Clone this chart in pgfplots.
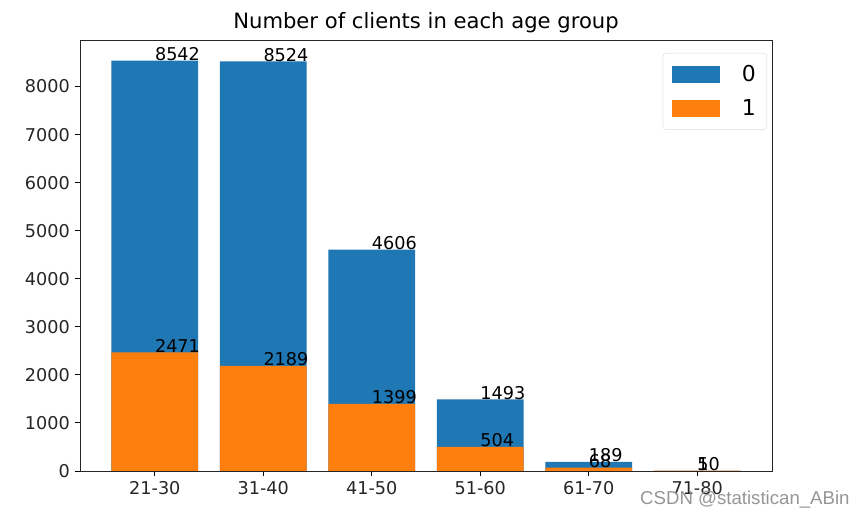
\documentclass[border=0pt]{standalone}
\usepackage{fontspec}
\setmainfont{DejaVu Sans}
\newfontfamily\wmfont{Liberation Sans}
\usepackage{pgfplots}
\pgfplotsset{compat=1.18}
\definecolor{c0}{HTML}{1F77B4}
\definecolor{c1}{HTML}{FF7F0E}
\definecolor{wm}{RGB}{150,150,150}
\newcommand{\fs}{\fontsize{17.7}{20}\selectfont}
\begin{document}
\begin{tikzpicture}
\useasboundingbox (0,0) rectangle (865bp,518bp);
\begin{axis}[
  at={(80bp,47bp)}, anchor=south west,
  scale only axis, width=692bp, height=431bp,
  xmin=-0.69, xmax=5.69, ymin=0, ymax=8969,
  ybar, bar width=0.8, bar shift=0pt,
  xtick={0,1,2,3,4,5},
  xticklabels={21-30,31-40,41-50,51-60,61-70,71-80},
  ytick={0,1000,2000,3000,4000,5000,6000,7000,8000},
  scaled y ticks=false,
  /pgf/number format/assume math mode=true,
  /pgf/number format/1000 sep={},
  xtick pos=bottom, ytick pos=left,
  tick align=outside, major tick length=5bp,
  every tick/.style={black, line width=0.9bp},
  axis line style={black!85, line width=0.9bp},
  ticklabel style={font=\fs, text=black!85},
  xticklabel style={inner sep=0pt, yshift=-5bp},
  yticklabel style={inner sep=0pt, xshift=-5bp},
  title={Number of clients in each age group},
  title style={font=\fontsize{21.2}{24}\selectfont, at={(0.5,1)}, anchor=base, yshift=6bp},
  nodes near coords, point meta=explicit symbolic,
  every node near coord/.append style={anchor=base west, inner sep=0pt, font=\fs, text=black},
  legend style={at={(1,1)}, anchor=north east, xshift=-5bp, yshift=-13bp,
    draw=black!15, rounded corners=3bp, font=\fontsize{22}{24}\selectfont,
    inner xsep=9bp, inner ysep=10bp, row sep=13bp},
  legend cell align=left,
]
\addplot[fill=c0, draw=none, legend image code/.code={\fill[c0, sharp corners] (0bp,-8.5bp) rectangle (48bp,8.5bp);}]
  coordinates {(0,8542)[8542] (1,8524)[8524] (2,4606)[4606] (3,1493)[1493] (4,189)[189] (5,5)[5]};
\addlegendentry{\hspace{20bp}0}
\addplot[fill=c1, draw=none, legend image code/.code={\fill[c1, sharp corners] (0bp,-8.5bp) rectangle (48bp,8.5bp);}]
  coordinates {(0,2471)[2471] (1,2189)[2189] (2,1399)[1399] (3,504)[504] (4,68)[68] (5,10)[10]};
\addlegendentry{\hspace{20bp}1}
\end{axis}
\node[anchor=base west, inner sep=0pt, text=wm, font=\wmfont\fontsize{18.7}{20}\selectfont] at (640bp,14bp) {CSDN @statistican\_ABin};
\end{tikzpicture}
\end{document}
